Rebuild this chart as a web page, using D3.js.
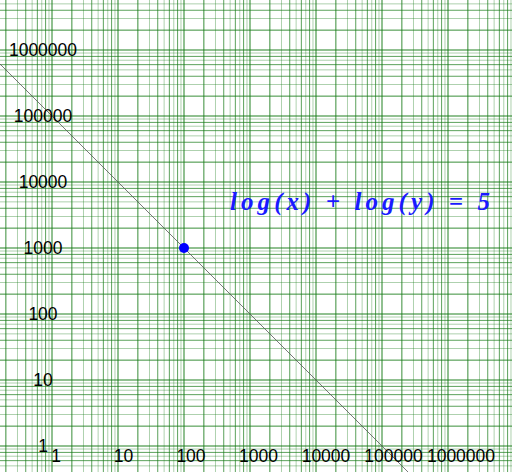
<!DOCTYPE html>
<html><head><meta charset="utf-8">
<script src="https://cdn.jsdelivr.net/npm/d3@7"></script>
<style>body{margin:0;background:#fff}</style>
</head><body>
<svg id="chart" width="512" height="472"></svg>
<script>
const xTicks = [1, 10, 100, 1000, 10000, 100000, 1000000];
const yTicks = [1, 10, 100, 1000, 10000, 100000, 1000000];
const tickLabels = ["1", "10", "100", "1000", "10000", "100000", "1000000"];
const point = [100, 1000];
const lineSum = 5; // log(x) + log(y) = 5
const title = "log(x) + log(y) = 5";

const svg = d3.select("#chart");
const W = 512, H = 472;

// one decade ~ 66px, value 1 sits at (52, 446)
const x = d3.scaleLog().domain([1, 1e6]).range([52, 448]);
const y = d3.scaleLog().domain([1, 1e6]).range([446, 50]);

// grid lines from 0.1 to 1e7 with minor multiples
const grid = [];
for (let e = -1; e <= 7; e++)
  for (let k = 1; k <= 9; k++) grid.push({v: k * Math.pow(10, e), k});
const op = k => k === 1 ? 0.95 : k === 2 ? 0.85 : (k % 2 ? 0.35 : 0.7);

svg.append("g").selectAll("line").data(grid.filter(d => x(d.v) >= 0 && x(d.v) <= W))
  .enter().append("line")
  .attr("x1", d => x(d.v)).attr("x2", d => x(d.v))
  .attr("y1", 0).attr("y2", H)
  .attr("stroke", "#167a16").attr("stroke-opacity", d => op(d.k)).attr("stroke-width", 1);

svg.append("g").selectAll("line").data(grid.filter(d => y(d.v) >= 0 && y(d.v) <= H))
  .enter().append("line")
  .attr("y1", d => y(d.v)).attr("y2", d => y(d.v))
  .attr("x1", 0).attr("x2", W)
  .attr("stroke", "#167a16").attr("stroke-opacity", d => op(d.k)).attr("stroke-width", 1);

// the line log(x)+log(y)=5 across the whole view
const x0 = x.invert(0), x1 = x.invert(W);
svg.append("line")
  .attr("x1", x(x0)).attr("y1", y(Math.pow(10, lineSum) / x0))
  .attr("x2", x(x1)).attr("y2", y(Math.pow(10, lineSum) / x1))
  .attr("stroke", "#555").attr("stroke-width", 0.8);

svg.append("g").selectAll("text").data(xTicks).enter().append("text")
  .attr("x", (d, i) => x(d) + 4 + i * 1.5).attr("y", 462)
  .attr("text-anchor", "middle")
  .style("font", "17.5px 'Liberation Sans', Arial, sans-serif")
  .text((d, i) => tickLabels[i]);

svg.append("g").selectAll("text").data(yTicks).enter().append("text")
  .attr("x", 43).attr("y", d => y(d) + 6)
  .attr("text-anchor", "middle")
  .style("font", "17.5px 'Liberation Sans', Arial, sans-serif")
  .text((d, i) => tickLabels[i]);

svg.append("circle")
  .attr("cx", x(point[0])).attr("cy", y(point[1])).attr("r", 5)
  .attr("fill", "#0000ff");

svg.append("text")
  .attr("x", 230).attr("y", 210)
  .attr("fill", "#1a1aff")
  .attr("textLength", 260).attr("lengthAdjust", "spacing")
  .style("font", "italic bold 25px 'Liberation Serif', 'DejaVu Serif', serif")
  .text(title);
</script>
</body></html>
